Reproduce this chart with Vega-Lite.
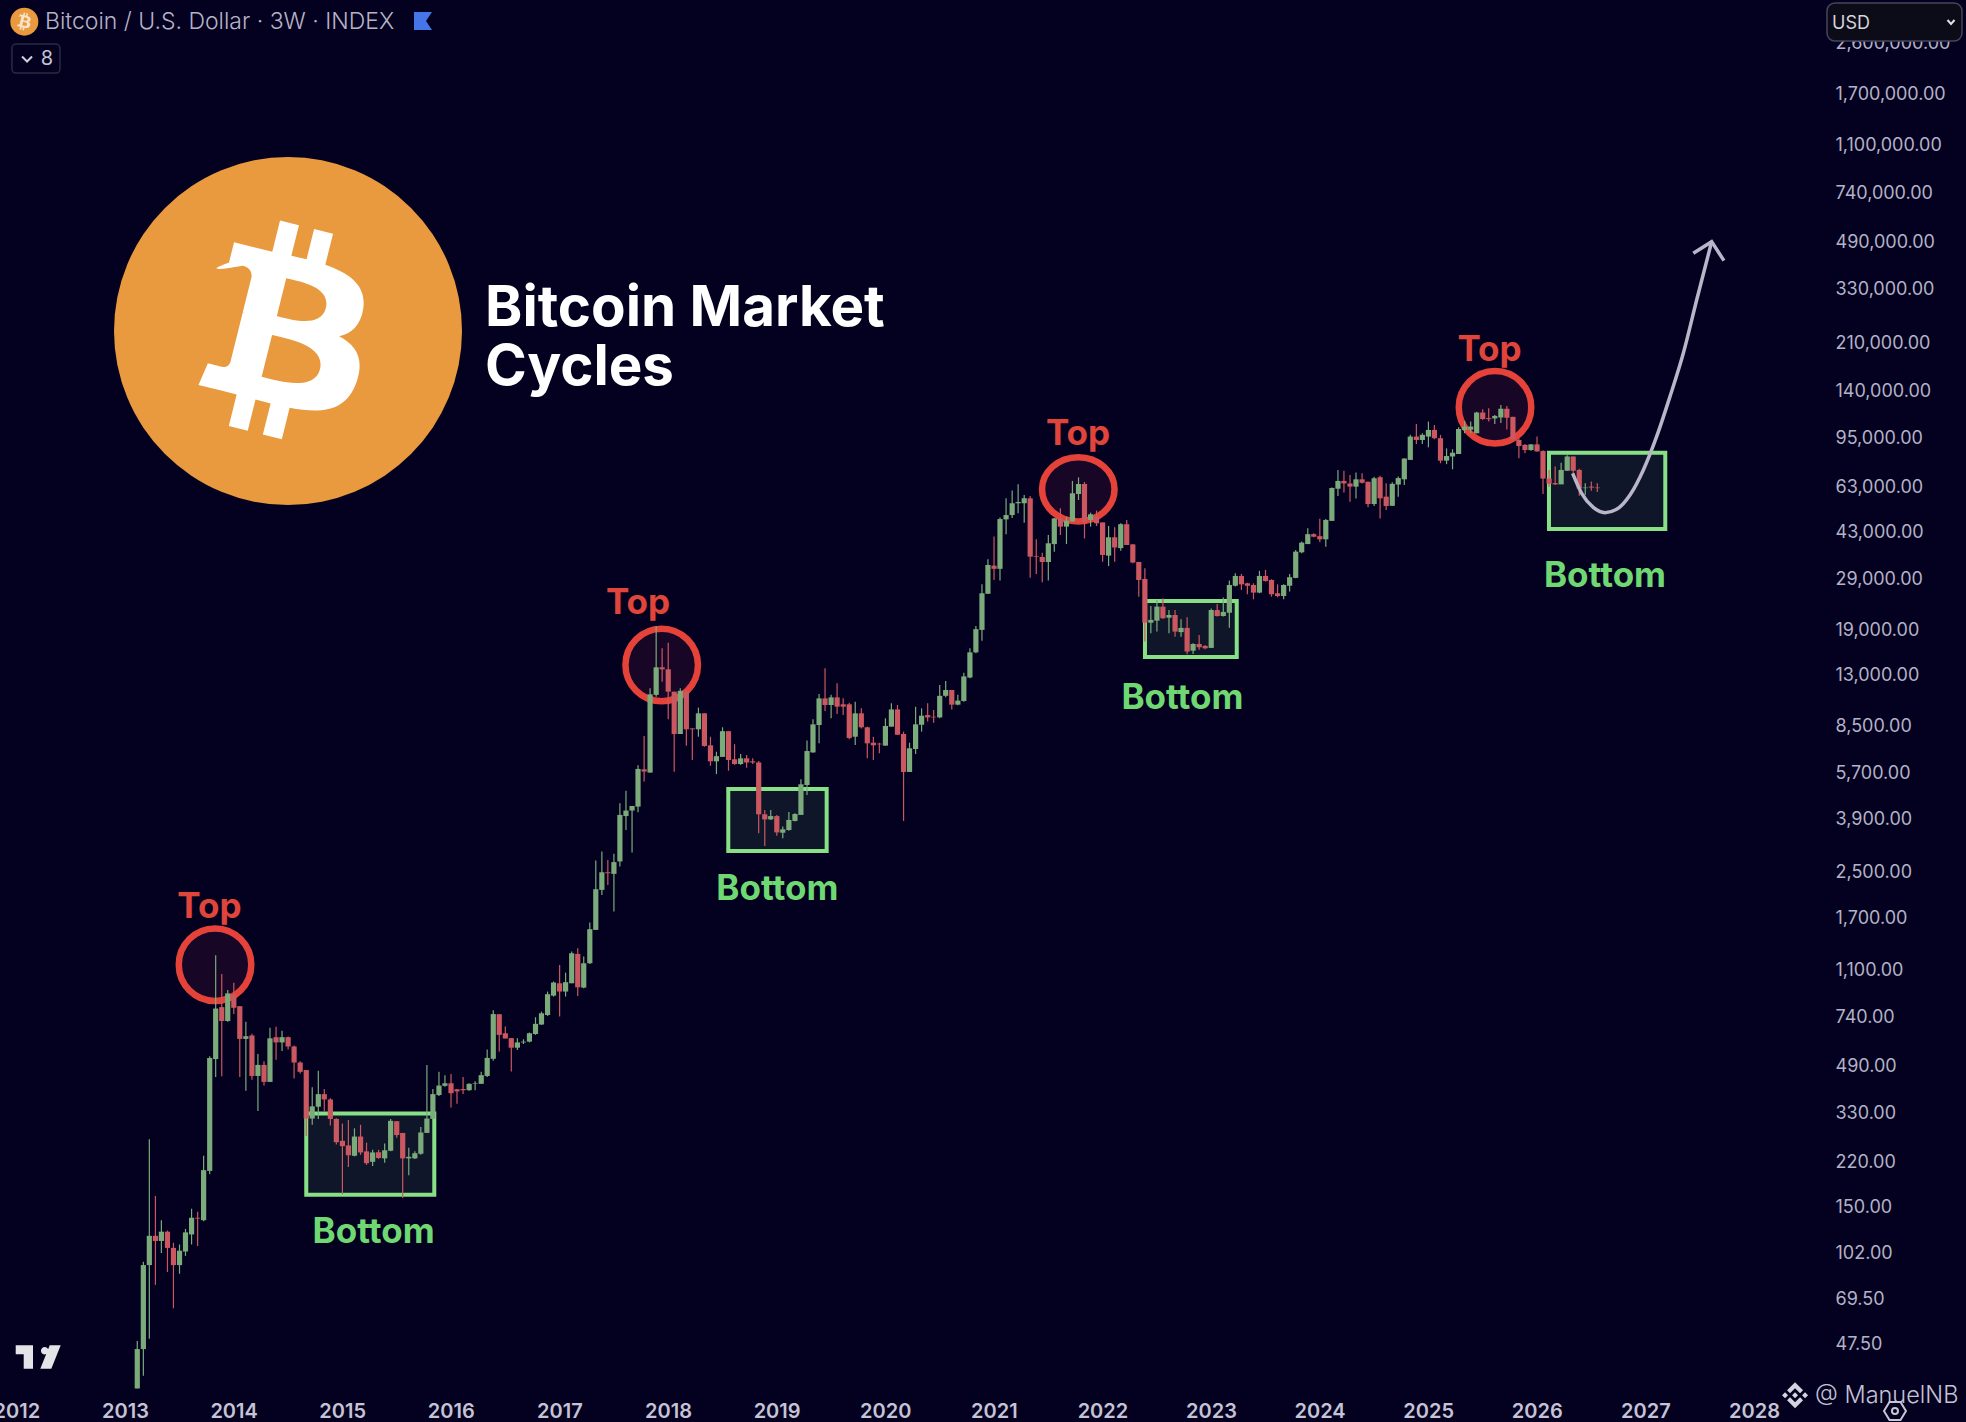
{
  "$schema": "https://vega.github.io/schema/vega-lite/v6.json",
  "width": 1966,
  "height": 1422,
  "padding": 0,
  "autosize": {"type": "none"},
  "background": "#03011f",
  "config": {
    "view": {"stroke": null},
    "axisY": {
      "orient": "right",
      "title": null,
      "grid": false,
      "domain": false,
      "ticks": false,
      "labelPadding": 0,
      "labelAlign": "left",
      "labelBaseline": "middle",
      "labelFont": "Inter",
      "labelFontSize": 18,
      "labelColor": "#b4b2c6",
      "labelOverlap": false,
      "labelFlush": false
    }
  },
  "datasets": {
    "candles": [
      {"t":2013.113,"o":33,"h":49.1,"l":33,"c":45.9},
      {"t":2013.169,"o":45.9,"h":95.5,"l":36.7,"c":92.8},
      {"t":2013.224,"o":92.8,"h":266.5,"l":50.1,"c":118.6},
      {"t":2013.280,"o":118.6,"h":165.7,"l":78.6,"c":113.6},
      {"t":2013.335,"o":113.6,"h":135.2,"l":102.6,"c":122.8},
      {"t":2013.391,"o":122.8,"h":124,"l":87.6,"c":107.2},
      {"t":2013.446,"o":107.2,"h":111.9,"l":64.6,"c":92.8},
      {"t":2013.502,"o":92.8,"h":110.3,"l":86.3,"c":104.7},
      {"t":2013.557,"o":104,"h":125.7,"l":100.2,"c":122.1},
      {"t":2013.613,"o":120,"h":148.8,"l":110.3,"c":138},
      {"t":2013.669,"o":138,"h":145,"l":108.8,"c":137},
      {"t":2013.724,"o":135.2,"h":232,"l":134,"c":205.7},
      {"t":2013.780,"o":204.4,"h":534.3,"l":198.7,"c":526.6},
      {"t":2013.835,"o":522,"h":1245,"l":449,"c":797},
      {"t":2013.891,"o":806.6,"h":1065,"l":452,"c":718},
      {"t":2013.946,"o":718,"h":932,"l":714,"c":905},
      {"t":2014.002,"o":895,"h":990,"l":761,"c":802},
      {"t":2014.057,"o":813,"h":813,"l":449,"c":618},
      {"t":2014.113,"o":618,"h":714,"l":400,"c":632},
      {"t":2014.169,"o":636,"h":645,"l":439,"c":453},
      {"t":2014.224,"o":453,"h":545,"l":338,"c":497},
      {"t":2014.280,"o":497,"h":512,"l":418,"c":431},
      {"t":2014.335,"o":431,"h":678,"l":431,"c":621},
      {"t":2014.391,"o":627,"h":684,"l":519,"c":600},
      {"t":2014.446,"o":600,"h":661,"l":558,"c":627},
      {"t":2014.502,"o":627,"h":630,"l":566,"c":580},
      {"t":2014.557,"o":580,"h":585,"l":443,"c":507},
      {"t":2014.613,"o":507,"h":512,"l":462,"c":469},
      {"t":2014.669,"o":476,"h":476,"l":274,"c":317},
      {"t":2014.724,"o":317,"h":412,"l":301,"c":351},
      {"t":2014.780,"o":350,"h":473,"l":316,"c":389},
      {"t":2014.835,"o":389,"h":406,"l":338,"c":372},
      {"t":2014.891,"o":372,"h":376,"l":299,"c":316},
      {"t":2014.946,"o":316,"h":318,"l":255,"c":260},
      {"t":2015.002,"o":263,"h":304,"l":168,"c":251.5},
      {"t":2015.057,"o":253,"h":313,"l":211,"c":233},
      {"t":2015.113,"o":232,"h":292,"l":231,"c":272.6},
      {"t":2015.169,"o":272.6,"h":301,"l":234,"c":238.6},
      {"t":2015.224,"o":240.7,"h":259,"l":215,"c":218},
      {"t":2015.280,"o":220.6,"h":244,"l":213,"c":238.6},
      {"t":2015.335,"o":239,"h":244,"l":226,"c":227.7},
      {"t":2015.391,"o":227,"h":257,"l":219,"c":243},
      {"t":2015.446,"o":242,"h":316,"l":241,"c":311},
      {"t":2015.502,"o":310,"h":310,"l":270,"c":276},
      {"t":2015.557,"o":281,"h":281,"l":163,"c":227},
      {"t":2015.613,"o":227,"h":248,"l":197,"c":230},
      {"t":2015.669,"o":227,"h":241,"l":226,"c":237},
      {"t":2015.724,"o":236,"h":295,"l":234,"c":282},
      {"t":2015.780,"o":281,"h":497,"l":281,"c":317},
      {"t":2015.835,"o":316,"h":406,"l":316,"c":389},
      {"t":2015.891,"o":386,"h":469,"l":383,"c":418},
      {"t":2015.946,"o":417,"h":456,"l":414,"c":426},
      {"t":2016.002,"o":426,"h":460,"l":348,"c":392},
      {"t":2016.057,"o":405,"h":406,"l":359,"c":398},
      {"t":2016.113,"o":406,"h":449,"l":389,"c":402},
      {"t":2016.169,"o":402,"h":426,"l":400,"c":424},
      {"t":2016.224,"o":424,"h":433,"l":402,"c":426},
      {"t":2016.280,"o":424,"h":469,"l":424,"c":456},
      {"t":2016.335,"o":453,"h":566,"l":449,"c":527},
      {"t":2016.391,"o":523,"h":786,"l":515,"c":761},
      {"t":2016.446,"o":760,"h":760,"l":556,"c":639},
      {"t":2016.502,"o":648,"h":685,"l":620,"c":620},
      {"t":2016.557,"o":622,"h":622,"l":470,"c":574},
      {"t":2016.613,"o":574,"h":622,"l":563,"c":600},
      {"t":2016.669,"o":600,"h":616,"l":592,"c":604},
      {"t":2016.724,"o":604,"h":652,"l":600,"c":648},
      {"t":2016.780,"o":644,"h":741,"l":639,"c":701},
      {"t":2016.835,"o":697,"h":777,"l":695,"c":766},
      {"t":2016.891,"o":755,"h":919,"l":749,"c":899},
      {"t":2016.946,"o":888,"h":1000,"l":881,"c":991},
      {"t":2017.002,"o":985,"h":1147,"l":745,"c":919},
      {"t":2017.057,"o":919,"h":1077,"l":881,"c":994},
      {"t":2017.113,"o":985,"h":1285,"l":985,"c":1267},
      {"t":2017.169,"o":1260,"h":1322,"l":885,"c":952},
      {"t":2017.224,"o":950,"h":1232,"l":945,"c":1165},
      {"t":2017.280,"o":1165,"h":1640,"l":1157,"c":1550},
      {"t":2017.335,"o":1541,"h":2755,"l":1541,"c":2167},
      {"t":2017.391,"o":2155,"h":2970,"l":2065,"c":2498},
      {"t":2017.446,"o":2498,"h":2769,"l":2247,"c":2477},
      {"t":2017.502,"o":2464,"h":2915,"l":1797,"c":2720},
      {"t":2017.557,"o":2735,"h":4455,"l":2619,"c":4040},
      {"t":2017.613,"o":4000,"h":4950,"l":3560,"c":4190},
      {"t":2017.669,"o":4190,"h":4355,"l":2950,"c":4355},
      {"t":2017.724,"o":4331,"h":6130,"l":4130,"c":5940},
      {"t":2017.780,"o":5920,"h":7825,"l":5340,"c":5810},
      {"t":2017.835,"o":5760,"h":11670,"l":5760,"c":11100},
      {"t":2017.891,"o":11050,"h":19670,"l":10880,"c":13920},
      {"t":2017.946,"o":13920,"h":16320,"l":12340,"c":13690},
      {"t":2018.002,"o":13690,"h":17100,"l":9000,"c":11350},
      {"t":2018.057,"o":11350,"h":11350,"l":5800,"c":7960},
      {"t":2018.113,"o":7960,"h":11670,"l":7960,"c":11430},
      {"t":2018.169,"o":11350,"h":11510,"l":7220,"c":8280},
      {"t":2018.224,"o":8340,"h":8340,"l":6400,"c":8280},
      {"t":2018.280,"o":8280,"h":9930,"l":7780,"c":9466},
      {"t":2018.335,"o":9466,"h":9466,"l":7159,"c":7200},
      {"t":2018.391,"o":7240,"h":7780,"l":6100,"c":6330},
      {"t":2018.446,"o":6330,"h":6860,"l":5690,"c":6610},
      {"t":2018.502,"o":6570,"h":8420,"l":6570,"c":8150},
      {"t":2018.557,"o":8150,"h":8150,"l":5850,"c":6402},
      {"t":2018.613,"o":6440,"h":7310,"l":6140,"c":6190},
      {"t":2018.669,"o":6190,"h":6730,"l":6140,"c":6490},
      {"t":2018.724,"o":6490,"h":6680,"l":6000,"c":6270},
      {"t":2018.780,"o":6330,"h":6490,"l":6190,"c":6270},
      {"t":2018.835,"o":6270,"h":6350,"l":3463,"c":4060},
      {"t":2018.891,"o":4060,"h":4210,"l":3110,"c":3890},
      {"t":2018.946,"o":3890,"h":4210,"l":3873,"c":4000},
      {"t":2019.002,"o":4000,"h":4040,"l":3390,"c":3490},
      {"t":2019.057,"o":3480,"h":3662,"l":3320,"c":3580},
      {"t":2019.113,"o":3560,"h":4140,"l":3540,"c":3873},
      {"t":2019.169,"o":3840,"h":4095,"l":3820,"c":4070},
      {"t":2019.224,"o":4040,"h":5445,"l":4040,"c":5220},
      {"t":2019.280,"o":5190,"h":7530,"l":4770,"c":6900},
      {"t":2019.335,"o":6820,"h":9000,"l":6800,"c":8630},
      {"t":2019.391,"o":8580,"h":11130,"l":7360,"c":10730},
      {"t":2019.446,"o":10730,"h":13800,"l":9650,"c":10150},
      {"t":2019.502,"o":10150,"h":11050,"l":9080,"c":10820},
      {"t":2019.557,"o":10820,"h":12170,"l":9410,"c":10010},
      {"t":2019.613,"o":10210,"h":10730,"l":9330,"c":10010},
      {"t":2019.669,"o":10210,"h":10350,"l":7610,"c":7700},
      {"t":2019.724,"o":7780,"h":10440,"l":7260,"c":9466},
      {"t":2019.780,"o":9466,"h":9870,"l":8340,"c":8420},
      {"t":2019.835,"o":8420,"h":8464,"l":6490,"c":7360},
      {"t":2019.891,"o":7400,"h":7780,"l":6400,"c":7240},
      {"t":2019.946,"o":7340,"h":7400,"l":6770,"c":7300},
      {"t":2020.002,"o":7220,"h":9080,"l":7220,"c":8510},
      {"t":2020.057,"o":8464,"h":10300,"l":8464,"c":9780},
      {"t":2020.113,"o":9780,"h":10150,"l":7890,"c":7910},
      {"t":2020.169,"o":7960,"h":8120,"l":3840,"c":5790},
      {"t":2020.224,"o":5790,"h":7400,"l":5790,"c":7060},
      {"t":2020.280,"o":7020,"h":10010,"l":6730,"c":8630},
      {"t":2020.335,"o":8600,"h":9870,"l":8120,"c":9280},
      {"t":2020.391,"o":9330,"h":10300,"l":8830,"c":9150},
      {"t":2020.446,"o":9200,"h":9730,"l":8750,"c":9150},
      {"t":2020.502,"o":9150,"h":12000,"l":9080,"c":10960},
      {"t":2020.557,"o":10960,"h":12420,"l":10820,"c":11510},
      {"t":2020.613,"o":11510,"h":11510,"l":9780,"c":10180},
      {"t":2020.669,"o":10180,"h":11050,"l":10120,"c":10530},
      {"t":2020.724,"o":10500,"h":13310,"l":10440,"c":12900},
      {"t":2020.780,"o":12780,"h":16320,"l":12700,"c":15780},
      {"t":2020.835,"o":15780,"h":19670,"l":15649,"c":19170},
      {"t":2020.891,"o":19050,"h":27900,"l":17410,"c":25890},
      {"t":2020.946,"o":25780,"h":34430,"l":25780,"c":32830},
      {"t":2021.002,"o":32650,"h":41640,"l":28950,"c":31780},
      {"t":2021.057,"o":31780,"h":48830,"l":28800,"c":48230},
      {"t":2021.113,"o":48100,"h":57400,"l":42460,"c":49880},
      {"t":2021.169,"o":49880,"h":61300,"l":48700,"c":55060},
      {"t":2021.224,"o":55060,"h":64600,"l":50620,"c":55650},
      {"t":2021.280,"o":55060,"h":59000,"l":46800,"c":57400},
      {"t":2021.335,"o":57400,"h":58500,"l":29500,"c":35200},
      {"t":2021.391,"o":35400,"h":40700,"l":30460,"c":35200},
      {"t":2021.446,"o":35100,"h":36400,"l":28400,"c":33650},
      {"t":2021.502,"o":33650,"h":42200,"l":28800,"c":39360},
      {"t":2021.557,"o":39100,"h":48700,"l":36700,"c":48500},
      {"t":2021.613,"o":48500,"h":52800,"l":42200,"c":45270},
      {"t":2021.669,"o":45270,"h":49200,"l":39100,"c":47600},
      {"t":2021.724,"o":47300,"h":66400,"l":47200,"c":59860},
      {"t":2021.780,"o":59500,"h":68400,"l":56600,"c":64700},
      {"t":2021.835,"o":64700,"h":65800,"l":41000,"c":47200},
      {"t":2021.891,"o":47870,"h":50900,"l":45270,"c":50200},
      {"t":2021.946,"o":49200,"h":51800,"l":45500,"c":46550},
      {"t":2022.002,"o":46900,"h":46900,"l":33750,"c":35700},
      {"t":2022.057,"o":35500,"h":45500,"l":32550,"c":41400},
      {"t":2022.113,"o":41400,"h":45000,"l":33750,"c":38000},
      {"t":2022.169,"o":37800,"h":46550,"l":37000,"c":46200},
      {"t":2022.224,"o":46200,"h":47870,"l":38800,"c":38800},
      {"t":2022.280,"o":39000,"h":39100,"l":33300,"c":33500},
      {"t":2022.335,"o":33650,"h":33750,"l":25170,"c":28950},
      {"t":2022.391,"o":29200,"h":31950,"l":17270,"c":20230},
      {"t":2022.446,"o":20230,"h":23280,"l":18520,"c":20710},
      {"t":2022.502,"o":20580,"h":24480,"l":18780,"c":23150},
      {"t":2022.557,"o":23150,"h":24820,"l":20890,"c":21010},
      {"t":2022.613,"o":21100,"h":22510,"l":18520,"c":21580},
      {"t":2022.669,"o":21580,"h":22510,"l":18000,"c":18780},
      {"t":2022.724,"o":18700,"h":20830,"l":18000,"c":19370},
      {"t":2022.780,"o":19370,"h":21200,"l":15530,"c":15890},
      {"t":2022.835,"o":16000,"h":17030,"l":15570,"c":16930},
      {"t":2022.891,"o":16930,"h":18260,"l":16120,"c":16470},
      {"t":2022.946,"o":16650,"h":16790,"l":16200,"c":16330},
      {"t":2023.002,"o":16380,"h":22800,"l":16380,"c":22500},
      {"t":2023.057,"o":22500,"h":23680,"l":21290,"c":21400},
      {"t":2023.113,"o":21400,"h":25000,"l":21290,"c":22140},
      {"t":2023.169,"o":22000,"h":28800,"l":19400,"c":27760},
      {"t":2023.224,"o":27580,"h":30610,"l":27380,"c":29940},
      {"t":2023.280,"o":29940,"h":30450,"l":26620,"c":27900},
      {"t":2023.335,"o":28150,"h":28300,"l":25680,"c":27580},
      {"t":2023.391,"o":27760,"h":28150,"l":24620,"c":26040},
      {"t":2023.446,"o":26040,"h":31270,"l":25890,"c":29940},
      {"t":2023.502,"o":29940,"h":31470,"l":28540,"c":28700},
      {"t":2023.557,"o":28950,"h":29120,"l":25170,"c":25680},
      {"t":2023.613,"o":25890,"h":27900,"l":25050,"c":25300},
      {"t":2023.669,"o":25300,"h":27900,"l":24620,"c":27760},
      {"t":2023.724,"o":27580,"h":30450,"l":26260,"c":29620},
      {"t":2023.780,"o":29460,"h":37200,"l":29370,"c":36700},
      {"t":2023.835,"o":36500,"h":40000,"l":36200,"c":39580},
      {"t":2023.891,"o":39100,"h":44650,"l":39100,"c":42500},
      {"t":2023.946,"o":42500,"h":42810,"l":41400,"c":41600},
      {"t":2024.002,"o":41800,"h":48400,"l":39800,"c":40700},
      {"t":2024.057,"o":40700,"h":48230,"l":38280,"c":47870},
      {"t":2024.113,"o":47500,"h":62800,"l":47500,"c":62600},
      {"t":2024.169,"o":62200,"h":72800,"l":58500,"c":66400},
      {"t":2024.224,"o":66400,"h":72300,"l":60200,"c":65000},
      {"t":2024.280,"o":65000,"h":69800,"l":55800,"c":63300},
      {"t":2024.335,"o":63300,"h":71200,"l":57300,"c":67300},
      {"t":2024.391,"o":67300,"h":70780,"l":65000,"c":65400},
      {"t":2024.446,"o":65950,"h":65950,"l":53200,"c":54700},
      {"t":2024.502,"o":54700,"h":68800,"l":53800,"c":67900},
      {"t":2024.557,"o":68500,"h":69300,"l":48500,"c":57400},
      {"t":2024.613,"o":58200,"h":65100,"l":52000,"c":53800},
      {"t":2024.669,"o":53900,"h":65600,"l":53800,"c":64800},
      {"t":2024.724,"o":64400,"h":68900,"l":58200,"c":68000},
      {"t":2024.780,"o":67300,"h":80300,"l":64200,"c":80100},
      {"t":2024.835,"o":79200,"h":97700,"l":79200,"c":96300},
      {"t":2024.891,"o":96300,"h":107000,"l":90500,"c":93600},
      {"t":2024.946,"o":93600,"h":99000,"l":90500,"c":97700},
      {"t":2025.002,"o":96300,"h":109200,"l":88000,"c":101800},
      {"t":2025.057,"o":101800,"h":106200,"l":94200,"c":95000},
      {"t":2025.113,"o":95000,"h":97700,"l":77000,"c":78700},
      {"t":2025.169,"o":78700,"h":87200,"l":76400,"c":81800},
      {"t":2025.224,"o":81500,"h":86600,"l":73200,"c":84100},
      {"t":2025.280,"o":83200,"h":104100,"l":83200,"c":102600},
      {"t":2025.335,"o":101800,"h":110000,"l":99000,"c":104700},
      {"t":2025.391,"o":102000,"h":109200,"l":99000,"c":104700},
      {"t":2025.446,"o":99000,"h":118500,"l":99000,"c":117800},
      {"t":2025.502,"o":117800,"h":121000,"l":110700,"c":111600},
      {"t":2025.557,"o":112400,"h":122000,"l":109200,"c":111400},
      {"t":2025.613,"o":112100,"h":115300,"l":107000,"c":114500},
      {"t":2025.669,"o":113000,"h":125500,"l":108000,"c":121600},
      {"t":2025.724,"o":121600,"h":124500,"l":102200,"c":112800},
      {"t":2025.780,"o":113600,"h":113600,"l":93600,"c":94200},
      {"t":2025.835,"o":93600,"h":95000,"l":80300,"c":89000},
      {"t":2025.891,"o":89800,"h":90500,"l":83700,"c":86000},
      {"t":2025.946,"o":86000,"h":90500,"l":85500,"c":90200},
      {"t":2026.002,"o":90200,"h":96300,"l":85000,"c":85000},
      {"t":2026.057,"o":85300,"h":85800,"l":59500,"c":67700},
      {"t":2026.113,"o":67800,"h":72800,"l":63300,"c":64800},
      {"t":2026.169,"o":65200,"h":74900,"l":64200,"c":64500},
      {"t":2026.224,"o":64500,"h":77400,"l":64800,"c":72800},
      {"t":2026.280,"o":72300,"h":82400,"l":72300,"c":81500},
      {"t":2026.335,"o":81500,"h":81500,"l":68800,"c":72300},
      {"t":2026.391,"o":72800,"h":73500,"l":58600,"c":62300},
      {"t":2026.446,"o":62500,"h":65100,"l":59000,"c":62800},
      {"t":2026.502,"o":63300,"h":66100,"l":61200,"c":62800},
      {"t":2026.557,"o":62800,"h":65100,"l":60500,"c":62500}
    ]
  },
  "encoding": {
    "x": {
      "field": "t",
      "type": "quantitative",
      "scale": {"domain": [2011.849, 2029.952], "nice": false, "zero": false, "padding": 0},
      "axis": {
        "orient": "bottom",
        "title": null,
        "values": [2012,2013,2014,2015,2016,2017,2018,2019,2020,2021,2022,2023,2024,2025,2026,2027,2028],
        "format": "d",
        "grid": false,
        "domain": false,
        "ticks": false,
        "offset": -11,
        "labelPadding": 0,
        "labelBaseline": "middle",
        "labelAlign": "center",
        "labelFont": "Inter",
        "labelFontSize": 20,
        "labelFontWeight": 600,
        "labelColor": "#c5c3d5",
        "labelOverlap": false,
        "labelFlush": false
      }
    },
    "y": {
      "field": "p",
      "type": "quantitative",
      "scale": {"type": "log", "domain": [24.91, 3740000], "nice": false},
      "axis": {
        "orient": "right",
        "offset": -131,
        "values": [2600000,1700000,1100000,740000,490000,330000,210000,140000,95000,63000,43000,29000,19000,13000,8500,5700,3900,2500,1700,1100,740,490,330,220,150,102,69.5,47.5],
        "format": ",.2f"
      }
    }
  },
  "layer": [
    {
      "data": {"values": [
        {"t":2014.669,"t2":2015.848,"p":331,"p2":167.5},
        {"t":2018.555,"t2":2019.461,"p":5020,"p2":2985},
        {"t":2022.392,"t2":2023.237,"p":24270,"p2":15180},
        {"t":2026.112,"t2":2027.183,"p":84100,"p2":44380}
      ]},
      "mark": {"type": "rect", "fill": "#10162a", "stroke": "#87e085", "strokeWidth": 4},
      "encoding": {"x2": {"field": "t2"}, "y2": {"field": "p2"}}
    },
    {
      "data": {"values": [
        {"t":2013.829,"p":1151},
        {"t":2017.942,"p":14195},
        {"t":2025.615,"p":123100}
      ]},
      "mark": {"type": "point", "shape": "circle", "filled": false, "fill": "#170626", "fillOpacity": 1, "stroke": "#e5433a", "strokeWidth": 6.5, "size": 5256, "opacity": 1}
    },
    {
      "data": {"values": [{"t":2021.778,"p":61900}]},
      "mark": {"type": "point", "shape": "M-1 0A1 .885 0 1 1 1 0A1 .885 0 1 1 -1 0Z", "filled": false, "fill": "#170626", "fillOpacity": 1, "stroke": "#e5433a", "strokeWidth": 6.5, "size": 5256, "opacity": 1}
    },
    {
      "data": {"values": [{"t":2014.501,"p":233300}]},
      "mark": {"type": "point", "shape": "circle", "filled": true, "fill": "#e9993e", "size": 121104, "opacity": 1}
    },
    {
      "data": {"values": [{"t":2014.493,"p":229300}]},
      "mark": {
        "type": "point",
        "filled": true,
        "fill": "#ffffff",
        "opacity": 1,
        "size": 116.6,
        "shape": "M14.1009 -4.559C14.7379 -8.817 11.4959 -11.106 7.0659 -12.632l1.4375-5.7645-3.5105-.875-1.3995 5.6125c-.9225-.2305-1.8705-.4475-2.8125-.6625l1.4095-5.6495-3.5075-.875-1.4385 5.7625c-.7635-.1735-1.5135-.3445-2.2415-.5265l.0045-.018-4.84-1.2085-.9335 3.748s2.604.597 2.5495.634c1.4215.355 1.6785 1.2955 1.6355 2.0415l-1.6375 6.5685c.098.025.225.061.365.117-.117-.029-.2415-.061-.3705-.092l-2.295 9.2015c-.174.432-.6145 1.08-1.6085.834.035.051-2.5515-.6365-2.5515-.6365l-1.7425 4.0175 4.5675 1.1385c.8495.213 1.682.436 2.502.646l-1.4525 5.832 3.506.875 1.4385-5.77c.9575.26 1.887.5 2.797.726l-1.4335 5.743 3.51.875 1.4525-5.821c5.985 1.1325 10.4855.676 12.3795-4.7375 1.5265-4.359-.076-6.8735-3.2255-8.5135 2.294-.529 4.022-2.038 4.483-5.155zM6.0809 6.687c-1.0845 4.359-8.4225 2.0025-10.8015 1.412l1.927-7.7275c2.379.594 10.0075 1.77 8.8745 6.3155zM7.1664 -4.622c-.9895 3.965-7.0965 1.9505-9.0775 1.4565l1.7475-7.0085c1.981.494 8.3605 1.416 7.33 5.552z"
      }
    },
    {
      "data": {"name": "candles"},
      "mark": {"type": "rule", "strokeWidth": 1.2},
      "encoding": {
        "y": {
          "field": "h",
          "type": "quantitative",
          "scale": {"type": "log", "domain": [24.91, 3740000], "nice": false},
          "axis": {
            "orient": "right",
            "offset": -131,
            "values": [2600000,1700000,1100000,740000,490000,330000,210000,140000,95000,63000,43000,29000,19000,13000,8500,5700,3900,2500,1700,1100,740,490,330,220,150,102,69.5,47.5],
            "format": ",.2f"
          }
        },
        "y2": {"field": "l"},
        "color": {"condition": {"test": "datum.c >= datum.o", "value": "#7bab7b"}, "value": "#cb5860"}
      }
    },
    {
      "data": {"name": "candles"},
      "mark": {"type": "bar", "size": 5.2},
      "encoding": {
        "y": {
          "field": "o",
          "type": "quantitative",
          "scale": {"type": "log", "domain": [24.91, 3740000], "nice": false},
          "axis": {
            "orient": "right",
            "offset": -131,
            "values": [2600000,1700000,1100000,740000,490000,330000,210000,140000,95000,63000,43000,29000,19000,13000,8500,5700,3900,2500,1700,1100,740,490,330,220,150,102,69.5,47.5],
            "format": ",.2f"
          }
        },
        "y2": {"field": "c"},
        "color": {"condition": {"test": "datum.c >= datum.o", "value": "#7bab7b"}, "value": "#cb5860"}
      }
    },
    {
      "data": {"values": [
        {"t":2026.330,"p":70750},{"t":2026.413,"p":59840},{"t":2026.520,"p":53210},{"t":2026.628,"p":50890},
        {"t":2026.735,"p":52340},{"t":2026.858,"p":59000},{"t":2026.981,"p":72780},{"t":2027.103,"p":96230},
        {"t":2027.226,"p":134600},{"t":2027.349,"p":193500},{"t":2027.472,"p":302600},{"t":2027.610,"p":493300}
      ]},
      "mark": {"type": "line", "interpolate": "monotone", "stroke": "#b9b6c9", "strokeWidth": 3.5}
    },
    {
      "data": {"values": [
        {"t":2027.441,"p":447400},{"t":2027.610,"p":493300},{"t":2027.723,"p":420800}
      ]},
      "mark": {"type": "line", "stroke": "#b9b6c9", "strokeWidth": 3.5}
    },
    {
      "data": {"values": [
        {"t":2013.777,"p":1874,"s":"Top"},
        {"t":2017.724,"p":23840,"s":"Top"},
        {"t":2021.775,"p":98800,"s":"Top"},
        {"t":2025.565,"p":199700,"s":"Top"}
      ]},
      "mark": {"type": "text", "font": "Inter", "fontWeight": 700, "fontSize": 35, "fill": "#e0453c", "align": "center", "baseline": "middle"},
      "encoding": {"text": {"field": "s"}}
    },
    {
      "data": {"values": [
        {"t":2015.289,"p":122,"s":"Bottom"},
        {"t":2019.007,"p":2172,"s":"Bottom"},
        {"t":2022.737,"p":10720,"s":"Bottom"},
        {"t":2026.628,"p":30050,"s":"Bottom"}
      ]},
      "mark": {"type": "text", "font": "Inter", "fontWeight": 700, "fontSize": 35, "fill": "#6fd873", "align": "center", "baseline": "middle"},
      "encoding": {"text": {"field": "s"}}
    },
    {
      "data": {"values": [
        {"t":2016.315,"p":279400,"s":"Bitcoin Market"},
        {"t":2016.315,"p":170400,"s":"Cycles"}
      ]},
      "mark": {"type": "text", "font": "Inter", "fontWeight": 700, "fontSize": 56.5, "fill": "#ffffff", "align": "left", "baseline": "middle"},
      "encoding": {"text": {"field": "s"}}
    },
    {
      "data": {"values": [{"t":2012.263,"p":3118000,"s":"Bitcoin / U.S. Dollar · 3W · INDEX"}]},
      "mark": {"type": "text", "font": "Inter", "fontWeight": 300, "fontSize": 23, "fill": "#b6b3c8", "align": "left", "baseline": "middle"},
      "encoding": {"text": {"field": "s"}}
    },
    {
      "data": {"values": [{"t":2012.073,"p":3118000}]},
      "mark": {"type": "point", "shape": "circle", "filled": true, "fill": "#e9993e", "size": 784, "opacity": 1}
    },
    {
      "data": {"values": [{"t":2012.073,"p":3118000}]},
      "mark": {
        "type": "point",
        "filled": true,
        "fill": "#f6e3c8",
        "opacity": 1,
        "size": 0.8,
        "shape": "M14.1009 -4.559C14.7379 -8.817 11.4959 -11.106 7.0659 -12.632l1.4375-5.7645-3.5105-.875-1.3995 5.6125c-.9225-.2305-1.8705-.4475-2.8125-.6625l1.4095-5.6495-3.5075-.875-1.4385 5.7625c-.7635-.1735-1.5135-.3445-2.2415-.5265l.0045-.018-4.84-1.2085-.9335 3.748s2.604.597 2.5495.634c1.4215.355 1.6785 1.2955 1.6355 2.0415l-1.6375 6.5685c.098.025.225.061.365.117-.117-.029-.2415-.061-.3705-.092l-2.295 9.2015c-.174.432-.6145 1.08-1.6085.834.035.051-2.5515-.6365-2.5515-.6365l-1.7425 4.0175 4.5675 1.1385c.8495.213 1.682.436 2.502.646l-1.4525 5.832 3.506.875 1.4385-5.77c.9575.26 1.887.5 2.797.726l-1.4335 5.743 3.51.875 1.4525-5.821c5.985 1.1325 10.4855.676 12.3795-4.7375 1.5265-4.359-.076-6.8735-3.2255-8.5135 2.294-.529 4.022-2.038 4.483-5.155zM6.0809 6.687c-1.0845 4.359-8.4225 2.0025-10.8015 1.412l1.927-7.7275c2.379.594 10.0075 1.77 8.8745 6.3155zM7.1664 -4.622c-.9895 3.965-7.0965 1.9505-9.0775 1.4565l1.7475-7.0085c1.981.494 8.3605 1.416 7.33 5.552z"
      }
    },
    {
      "data": {"values": [{"t":2015.744,"p":3137000}]},
      "mark": {"type": "point", "shape": "M-9 -9L9 -9L3 0L9 9L-9 9Z", "filled": true, "fill": "#4576e8", "size": 4, "opacity": 1}
    },
    {
      "data": {"values": [{"t":2011.959,"t2":2012.401,"p":2586000,"p2":2028000}]},
      "mark": {"type": "rect", "fill": "#03011f", "stroke": "#2b2a42", "strokeWidth": 1.5, "cornerRadius": 4},
      "encoding": {"x2": {"field": "t2"}, "y2": {"field": "p2"}}
    },
    {
      "data": {"values": [{"t":2012.098,"p":2281000}]},
      "mark": {"type": "point", "shape": "M-5 -2.5L0 2.5L5 -2.5", "filled": false, "stroke": "#d0cfdc", "strokeWidth": 2, "size": 4, "opacity": 1}
    },
    {
      "data": {"values": [{"t":2012.282,"p":2281000,"s":"8"}]},
      "mark": {"type": "text", "font": "Inter", "fontSize": 20, "fill": "#c5c3d5", "align": "center", "baseline": "middle"},
      "encoding": {"text": {"field": "s"}}
    },
    {
      "data": {"values": [{"t":2028.672,"t2":2029.915,"p":3648000,"p2":2652000}]},
      "mark": {"type": "rect", "fill": "#0c0b18", "stroke": "#46465a", "strokeWidth": 1.5, "cornerRadius": 8},
      "encoding": {"x2": {"field": "t2"}, "y2": {"field": "p2"}}
    },
    {
      "data": {"values": [{"t":2028.718,"p":3060000,"s":"USD"}]},
      "mark": {"type": "text", "font": "Inter", "fontSize": 18, "fill": "#d4d3dc", "align": "left", "baseline": "middle"},
      "encoding": {"text": {"field": "s"}}
    },
    {
      "data": {"values": [{"t":2029.814,"p":3111000}]},
      "mark": {"type": "point", "shape": "M-3.5 -2L0 2L3.5 -2", "filled": false, "stroke": "#e0e0e6", "strokeWidth": 2, "size": 4, "opacity": 1}
    },
    {
      "data": {"values": [{"t":2012.199,"p":42.95}]},
      "mark": {
        "type": "point",
        "filled": true,
        "fill": "#e4e4e8",
        "opacity": 1,
        "size": 4,
        "shape": "M-22.3 -11.7L-5 -11.7L-5 11.7L-14.3 11.7L-14.3 -2.7L-22.3 -2.7ZM11.7 -11.7L22.7 -11.7L13.3 11.7L2.3 11.7ZM3 -6.7A3.7 3.7 0 1 1 2.99 -6.6Z"
      }
    },
    {
      "data": {"values": [{"t":2028.378,"p":31.2}]},
      "mark": {
        "type": "point",
        "filled": true,
        "fill": "#d5d3e0",
        "opacity": 1,
        "size": 4,
        "shape": "M0 -3L3 0L0 3L-3 0ZM0 -13L8 -5L5 -2L0 -7L-5 -2L-8 -5ZM0 13L8 5L5 2L0 7L-5 2L-8 5ZM-13 0L-10 -3L-7 0L-10 3ZM13 0L10 -3L7 0L10 3Z"
      }
    },
    {
      "data": {"values": [{"t":2028.562,"p":30.97,"s":"@ ManuelNB"}]},
      "mark": {"type": "text", "font": "Inter", "fontWeight": 300, "fontSize": 23.5, "fill": "#c5c3d5", "align": "left", "baseline": "middle"},
      "encoding": {"text": {"field": "s"}}
    },
    {
      "data": {"values": [{"t":2029.298,"p":27.3}]},
      "mark": {"type": "point", "shape": "M-11 0L-5.5 -9L5.5 -9L11 0L5.5 9L-5.5 9Z", "filled": false, "stroke": "#c8c6d6", "strokeWidth": 2, "size": 4, "opacity": 1}
    },
    {
      "data": {"values": [{"t":2029.298,"p":27.3}]},
      "mark": {"type": "point", "shape": "circle", "filled": false, "stroke": "#c8c6d6", "strokeWidth": 2, "size": 36, "opacity": 1}
    }
  ]
}
